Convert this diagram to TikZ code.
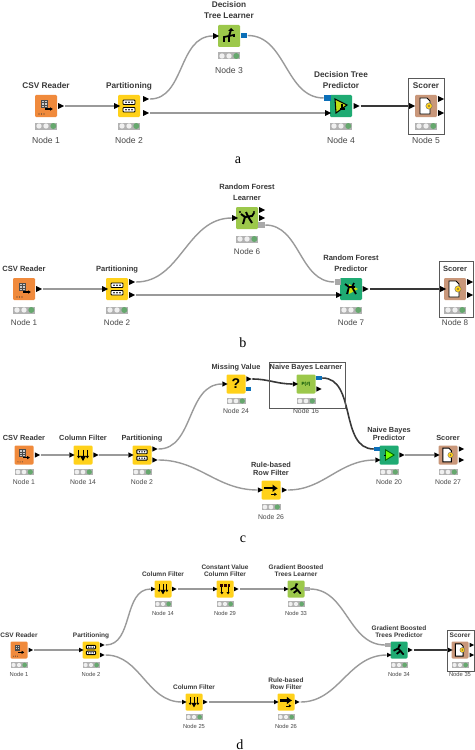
\documentclass[tikz,border=0pt]{standalone}
\usepackage{fontspec}
\setmainfont{Liberation Serif}
\setsansfont{Liberation Sans}
\usetikzlibrary{
  arrows.meta,
  shapes.geometric
}
\definecolor{readerc}{HTML}{F08A3C}
\definecolor{manipc}{HTML}{FFD11A}
\definecolor{learnc}{HTML}{9CC84B}
\definecolor{predc}{HTML}{1FAB73}
\definecolor{scorec}{HTML}{C9977A}
\definecolor{portblue}{HTML}{0B6FB8}
\definecolor{portgray}{HTML}{A9A9A9}
\definecolor{wirec}{HTML}{9A9A9A}
\definecolor{lampg}{HTML}{66A86E}

\begin{document}
\begin{tikzpicture}[
  x=0.02cm, y=-0.02cm,
  body/.style={minimum size=\sz*0.02cm, inner sep=0pt, rounded corners=0.6pt},
  nlbl/.style={font=\sffamily\fontsize{\fl}{\fl}\selectfont, text=black!72, inner sep=0pt},
  ttl/.style={font=\sffamily\bfseries\fontsize{\ft}{\tl}\selectfont, text=black!78, align=center, anchor=south, inner sep=0pt, text depth=0.2em},
  capt/.style={font=\fontsize{8}{8}\selectfont, anchor=base, inner sep=0pt},
  tri/.style={shape=isosceles triangle, isosceles triangle stretches, fill=black, inner sep=0pt, minimum width=\sz*0.0054cm, minimum height=\sz*0.0054cm},
  sqb/.style={fill=portblue, inner sep=0pt, minimum width=\sz*0.0062cm, minimum height=\sz*0.0048cm},
  sqg/.style={fill=portgray, inner sep=0pt, minimum width=\sz*0.0062cm, minimum height=\sz*0.0048cm},
  wire/.style={draw=wirec, line width=0.8pt},
  dwire/.style={draw=black!78, line width=1.1pt},
  frame/.style={draw=black!65, line width=0.45pt},
  lamps/.pic={
    \fill[gray!60] (-11,-3.5) rectangle (11,3.5);
    \fill[gray!12] (-7,0) circle (2.7) (0,0) circle (2.7);
    \fill[lampg] (7.3,0) circle (3);
  },
  csvicon/.pic={
    \draw[black!70, fill=gray!40, line width=0.4pt] (-5,-6) rectangle (1,1);
    \draw[black!70, line width=0.2pt] (-5,-3.5) -- (1,-3.5) (-5,-1) -- (1,-1) (-2,-6) -- (-2,1);
    \draw[black, line width=0.7pt, -{Latex[length=1.6pt, width=2pt]}] (-1,3) -- (7,3);
    \fill[black!80] (-7,8) circle (0.6) (-4.5,8) circle (0.6) (-2,8) circle (0.6);
  },
  parts/.pic={
    \draw[black, fill=white, line width=0.5pt, rounded corners=0.4pt] (-6,-6) rectangle (6,-1.5) (-6,1.5) rectangle (6,6);
    \fill[black] (-3,-3.7) circle (0.9) (0,-3.7) circle (0.9) (3,-3.7) circle (0.9) (-3,3.7) circle (0.9) (0,3.7) circle (0.9) (3,3.7) circle (0.9);
  },
  dtree/.pic={
    \draw[black, line width=1pt] (-5,6) -- (-5,1) -- (5,-1) -- (5,1) (0,6) -- (0,0) (0,0) -- (2,-6);
    \fill[black] (-1,-5) -- (2,-8) -- (5,-5) -- cycle;
  },
  dpred/.pic={
    \draw[black, fill=yellow!75!green, line width=0.6pt] (-6,-7) -- (6,-1) -- (-5,7) -- cycle;
    \draw[black, line width=0.7pt] (1,-2) -- (1,3) (-1,3) -- (4,3);
  },
  rficon/.pic={
    \draw[black, line width=1.1pt] (-6,-4) -- (-2,-1) -- (-4,6) (-2,-1) -- (5,-2) -- (7,-5) (1,-1.5) -- (5,5) (-1,-6) -- (1,-1.5);
    \fill[black] (-7,-6) circle (1.1) (7,-6) circle (1.1);
  },
  rfpred/.pic={
    \fill[yellow!80!green] (-2,-5) -- (7,0) -- (-2,5) -- cycle;
    \draw[black, line width=1pt] (-6,-5) -- (-2,-2) -- (-4,5) (-2,-2) -- (4,-2) (1,-2) -- (5,5) (1,-2) -- (3,-6);
  },
  nbicon/.pic={
    \node[font=\sffamily\bfseries\fontsize{2.6}{2.6}\selectfont, text=black!70!green, inner sep=0pt] (nbt) at (0,0) {P(\#)};
  },
  nbpred/.pic={
    \draw[black!60!green, fill=green!55!yellow, line width=0.5pt] (-4,-6) -- (6,0) -- (-4,6) -- cycle;
    \draw[black, line width=0.4pt] (-6,0) -- (-3,0);
  },
  scoreicon/.pic={
    \draw[black, fill=white, line width=0.55pt] (-6,-8) -- (1,-8) -- (4,-5) -- (4,8) -- (-6,8) -- cycle;
    \fill[manipc, draw=black!60, line width=0.2pt] (3,0) circle (3.2);
    \fill[black!70] (3,0) circle (0.9);
  },
  filticon/.pic={
    \draw[black, line width=0.5pt] (-5,-6) -- (-5,2) (5,-6) -- (5,2) (0,-6) -- (0,4);
    \fill[black] (-3.5,1) -- (3.5,1) -- (0,7) -- cycle;
    \fill[black] (-7,1) -- (-3,1) -- (-5,4) -- cycle (3,1) -- (7,1) -- (5,4) -- cycle;
  },
  consticon/.pic={
    \fill[black!80!red] (-7,-7) rectangle (7,-2);
    \draw[manipc, line width=0.3pt] (-2.5,-7) -- (-2.5,-2) (2.5,-7) -- (2.5,-2);
    \draw[black, line width=0.6pt] (-4,-2) -- (-4,5) (4,-2) -- (4,5);
    \fill[black] (-6,4) -- (-2,4) -- (-4,7) -- cycle (2,4) -- (6,4) -- (4,7) -- cycle;
  },
  ruleicon/.pic={
    \draw[black, line width=1.3pt, -{Latex[length=3pt, width=4.5pt]}] (-8,-2) -- (8,-2);
    \draw[black, line width=0.4pt, -{Latex[length=1.5pt, width=2pt]}] (0,5) -- (7,5);
  },
  missicon/.pic={
    \node[font=\sffamily\bfseries\fontsize{8}{8}\selectfont, inner sep=0pt] (mis) at (0,0) {?};
  },
  gbicon/.pic={
    \draw[black, line width=1pt] (-7,1) -- (-1,-2) -- (6,6) (-1,-2) -- (1,-7) (-3,5) -- (1,2) -- (4,2);
    \fill[black] (-1,-7) -- (3,-7) -- (1,-4) -- cycle;
  },
]
\useasboundingbox (0,0) rectangle (474,750);

% --- Panel a ---
\def\sz{22}\def\lampy{20}\def\lbly{34}\def\ttly{14}\def\fl{4.9}\def\ft{4.7}\def\tl{6}
\foreach \i/\x/\y/\c/\k/\t/\l in {1/46/106/readerc/csvicon/CSV Reader/Node 1, 2/129/106/manipc/parts/Partitioning/Node 2, 3/229/36/learnc/dtree/{Decision\\Tree Learner}/Node 3, 4/341/106/predc/dpred/{Decision Tree\\Predictor}/Node 4, 5/426/106/scorec/scoreicon/Scorer/Node 5}{
  \node[body, fill=\c] (a\i) at (\x,\y) {};
  \pic[scale=\sz/22] at (a\i) {\k};
  \pic[scale=\sz/22] at (\x,\y+\lampy) {lamps};
  \node[nlbl] (a\i n) at (\x,\y+\lbly) {\l};
  \node[ttl] (a\i t) at (\x,\y-\ttly) {\t};
}
\foreach \p/\x/\y/\k in {a1o/60/106/tri, a2i/116/106/tri, a2p/145/99/tri, a2q/145/113/tri, a3i/215/36/tri, a3o/244/35.5/sqb, a4b/327.5/98/sqb, a4i/327/113/tri, a4o/355.5/106/tri, a5i/411/106/tri, a5p/440/99/tri, a5q/440/113/tri}{
  \node[\k] (\p) at (\x,\y) {};
}
\draw[wire] (a1o) -- (a2i);
\draw[wire] (a2p) to[out=0, in=180] (a3i);
\draw[wire] (a2q) -- (a4i);
\draw[wire] (a3o) to[out=0, in=180] (a4b);
\draw[dwire] (a4o) -- (a5i);
\draw[frame] (408,78) rectangle (444,134);
\node[capt] (acap) at (238,163) {a};

% --- Panel b ---
\def\sz{22}\def\lampy{21}\def\lbly{34}\def\ttly{14}\def\fl{4.6}\def\ft{4.3}\def\tl{6}
\foreach \i/\x/\y/\c/\k/\t/\l in {1/24/289/readerc/csvicon/CSV Reader/Node 1, 2/117/289/manipc/parts/Partitioning/Node 2, 6/247/218/learnc/rficon/{Random Forest\\Learner}/Node 6, 7/351/289/predc/rfpred/{Random Forest\\Predictor}/Node 7, 8/455/289/scorec/scoreicon/Scorer/Node 8}{
  \node[body, fill=\c] (b\i) at (\x,\y) {};
  \pic[scale=\sz/22] at (b\i) {\k};
  \pic[scale=\sz/22] at (\x,\y+\lampy) {lamps};
  \node[nlbl] (b\i n) at (\x,\y+\lbly) {\l};
  \node[ttl] (b\i t) at (\x,\y-\ttly) {\t};
}
\foreach \p/\x/\y/\k in {b1o/38/289/tri, b2i/104/289/tri, b2p/131/282/tri, b2q/131/295/tri, b6i/234/218/tri, b6p/261/210/tri, b6q/261/218/tri, b6o/261.5/225/sqg, b7b/338/282/sqg, b7i/338/295/tri, b7o/364.5/289/tri, b8i/442/289/tri, b8p/469/282/tri, b8q/469/295/tri}{
  \node[\k] (\p) at (\x,\y) {};
}
\draw[wire] (b1o) -- (b2i);
\draw[wire] (b2p) to[out=0, in=180] (b6i);
\draw[wire] (b2q) -- (b7i);
\draw[wire] (b6o) to[out=0, in=180] (b7b);
\draw[dwire] (b7o) -- (b8i);
\draw[frame] (439,261) rectangle (473,317);
\node[capt] (bcap) at (243,347) {b};

% --- Panel c ---
\def\sz{19}\def\lampy{17}\def\lbly{27}\def\ttly{10.5}\def\fl{3.9}\def\ft{4.2}\def\tl{4.6}
\foreach \i/\x/\y/\c/\k/\t/\l in {1/24/455/readerc/csvicon/CSV Reader/Node 1, 14/83/455/manipc/filticon/Column Filter/Node 14, 2/142/455/manipc/parts/Partitioning/Node 2, 24/236/384/manipc/missicon/Missing Value/Node 24, 16/306/384/learnc/nbicon/Naive Bayes Learner/Node 16, 20/389/455/predc/nbpred/{Naive Bayes\\Predictor}/Node 20, 27/448/455/scorec/scoreicon/Scorer/Node 27, 26/271/490/manipc/ruleicon/{Rule-based\\Row Filter}/Node 26}{
  \node[body, fill=\c] (c\i) at (\x,\y) {};
  \pic[scale=\sz/22] at (c\i) {\k};
  \pic[scale=\sz/22] at (\x,\y+\lampy) {lamps};
  \node[nlbl] (c\i n) at (\x,\y+\lbly) {\l};
  \node[ttl] (c\i t) at (\x,\y-\ttly) {\t};
}
\foreach \p/\x/\y/\k in {c1o/36.5/455/tri, c14i/71/455/tri, c14o/95/455/tri, c2i/130/455/tri, c2p/154/449/tri, c2q/154/460/tri, c24i/224/384/tri, c24p/248/379/tri, c24b/248.5/389/sqb, c16i/294.5/384/tri, c16b/319/378/sqb, c16p/318/389/tri, c20b/377/449/sqb, c20i/377/460/tri, c20o/401/455/tri, c27i/436/455/tri, c27p/460.5/449/tri, c27q/460.5/460/tri, c26i/259.5/490/tri, c26o/283.5/490/tri}{
  \node[\k] (\p) at (\x,\y) {};
}
\draw[wire] (c1o) -- (c14i);
\draw[wire] (c14o) -- (c2i);
\draw[wire] (c2p) to[out=0, in=180] (c24i);
\draw[wire] (c2q) to[out=0, in=180] (c26i);
\draw[wire] (c26o) to[out=0, in=180] (c20i);
\draw[dwire, line width=0.9pt] (c24p) to[out=0, in=180] (c16i);
\draw[dwire, line width=0.9pt] (c16b) to[out=0, in=180] (c20b);
\draw[wire] (c20o) -- (c27i);
\draw[frame] (269,362) rectangle (345,408);
\node[capt] (ccap) at (243,542) {c};

% --- Panel d ---
\def\sz{17}\def\lampy{15}\def\lbly{24}\def\ttly{8.5}\def\fl{3.3}\def\ft{3.7}\def\tl{4.3}
\foreach \i/\x/\y/\c/\k/\t/\l in {1/19/650/readerc/csvicon/CSV Reader/Node 1, 2/91/650/manipc/parts/Partitioning/Node 2, 14/163/589/manipc/filticon/Column Filter/Node 14, 29/225/589/manipc/consticon/{Constant Value\\Column Filter}/Node 29, 33/296/589/learnc/gbicon/{Gradient Boosted\\Trees Learner}/Node 33, 25/194/702/manipc/filticon/Column Filter/Node 25, 26/286/702/manipc/ruleicon/{Rule-based\\Row Filter}/Node 26, 34/399/650/predc/gbicon/{Gradient Boosted\\Trees Predictor}/Node 34, 35/460/650/scorec/scoreicon/Scorer/Node 35}{
  \node[body, fill=\c] (d\i) at (\x,\y) {};
  \pic[scale=\sz/22] at (d\i) {\k};
  \pic[scale=\sz/22] at (\x,\y+\lampy) {lamps};
  \node[nlbl] (d\i n) at (\x,\y+\lbly) {\l};
  \node[ttl] (d\i t) at (\x,\y-\ttly) {\t};
}
\foreach \p/\x/\y/\k in {d1o/30/650/tri, d2i/80.5/650/tri, d2p/101.5/645/tri, d2q/101.5/655/tri, d14i/152.5/589/tri, d14o/173.5/589/tri, d29i/214.5/589/tri, d29o/235.5/589/tri, d33i/285.5/589/tri, d33o/307/589/sqg, d25i/183.5/702/tri, d25o/204.5/702/tri, d26i/275.5/702/tri, d26o/296.5/702/tri, d34b/388/645/sqg, d34i/388.5/655/tri, d34o/409.5/650/tri, d35i/449.5/650/tri, d35p/471/645/tri, d35q/471/655/tri}{
  \node[\k] (\p) at (\x,\y) {};
}
\draw[wire] (d1o) -- (d2i);
\draw[wire] (d2p) to[out=0, in=180] (d14i);
\draw[wire] (d2q) to[out=0, in=180] (d25i);
\draw[wire] (d14o) -- (d29i);
\draw[wire] (d29o) -- (d33i);
\draw[wire] (d33o) to[out=0, in=180] (d34b);
\draw[wire] (d25o) -- (d26i);
\draw[wire] (d26o) to[out=0, in=180] (d34i);
\draw[dwire] (d34o) -- (d35i);
\draw[frame] (447.5,630) rectangle (474,671);
\node[capt] (dcap) at (240,749) {d};
\end{tikzpicture}
\end{document}
